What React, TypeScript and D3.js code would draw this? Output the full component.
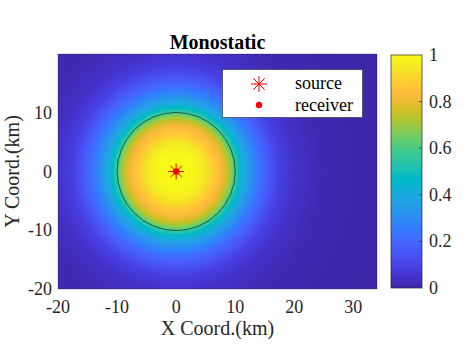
import React from "react";
import * as d3 from "d3";

// ---- data ----
const xTicks = [-20, -10, 0, 10, 20, 30];
const yTicks = [-20, -10, 0, 10];
const cbTicks = [0, 0.2, 0.4, 0.6, 0.8, 1];
// radial profile of the normalized field (distance km -> value)
const profileR = [0, 3, 4.5, 5.5, 6.5, 7.5, 8.3, 9, 9.5, 10, 10.5, 11, 12, 13, 14, 15, 16, 17, 18, 20, 24, 30, 40];
const profileV = [1, 0.99, 0.96, 0.92, 0.87, 0.83, 0.78, 0.72, 0.66, 0.58, 0.51, 0.45, 0.37, 0.3, 0.24, 0.19, 0.15, 0.11, 0.08, 0.045, 0.015, 0.005, 0];
const sourcePos = [0, 0];
const receiverPos = [0, 0];
const rangeRadius = 10;

// parula colormap (64)
const parula = [
  [0.2422,0.1504,0.6603],[0.2504,0.1650,0.7076],[0.2578,0.1818,0.7511],[0.2647,0.1978,0.7952],
  [0.2706,0.2147,0.8364],[0.2751,0.2342,0.8710],[0.2783,0.2559,0.8991],[0.2803,0.2782,0.9221],
  [0.2813,0.3006,0.9414],[0.2810,0.3228,0.9579],[0.2795,0.3447,0.9717],[0.2760,0.3667,0.9829],
  [0.2699,0.3892,0.9906],[0.2602,0.4123,0.9952],[0.2440,0.4358,0.9988],[0.2206,0.4603,0.9973],
  [0.1963,0.4847,0.9892],[0.1834,0.5074,0.9798],[0.1786,0.5289,0.9682],[0.1764,0.5499,0.9520],
  [0.1687,0.5703,0.9359],[0.1540,0.5902,0.9218],[0.1460,0.6091,0.9079],[0.1380,0.6276,0.8973],
  [0.1248,0.6459,0.8883],[0.1113,0.6635,0.8763],[0.0952,0.6798,0.8598],[0.0689,0.6948,0.8394],
  [0.0297,0.7082,0.8163],[0.0036,0.7203,0.7917],[0.0067,0.7312,0.7660],[0.0433,0.7411,0.7394],
  [0.0964,0.7500,0.7120],[0.1408,0.7584,0.6842],[0.1717,0.7670,0.6554],[0.1938,0.7758,0.6251],
  [0.2161,0.7843,0.5923],[0.2470,0.7918,0.5567],[0.2906,0.7973,0.5188],[0.3406,0.8008,0.4789],
  [0.3909,0.8029,0.4354],[0.4456,0.8024,0.3909],[0.5044,0.7993,0.3480],[0.5616,0.7942,0.3045],
  [0.6174,0.7876,0.2612],[0.6720,0.7793,0.2227],[0.7242,0.7698,0.1910],[0.7738,0.7598,0.1646],
  [0.8203,0.7498,0.1535],[0.8634,0.7406,0.1596],[0.9035,0.7330,0.1774],[0.9393,0.7288,0.2100],
  [0.9728,0.7298,0.2394],[0.9956,0.7434,0.2371],[0.9970,0.7659,0.2199],[0.9952,0.7893,0.2028],
  [0.9892,0.8136,0.1885],[0.9786,0.8386,0.1766],[0.9676,0.8639,0.1643],[0.9610,0.8890,0.1537],
  [0.9597,0.9135,0.1423],[0.9628,0.9373,0.1265],[0.9691,0.9606,0.1064],[0.9769,0.9839,0.0805],
];
const parulaColors = parula.map(([r, g, b]) => d3.rgb(r * 255, g * 255, b * 255).formatHex());
const colorScale = d3.scaleLinear<string>()
  .domain(parulaColors.map((_, i) => i / (parulaColors.length - 1)))
  .range(parulaColors)
  .interpolate(d3.interpolateRgb)
  .clamp(true);

const profile = d3.scaleLinear().domain(profileR).range(profileV).clamp(true);

const FONT = "'Liberation Serif', 'Times New Roman', serif";

export default function App() {
  const W = 474, H = 355;
  const x = d3.scaleLinear().domain([-20, 34]).range([58, 377]);
  const y = d3.scaleLinear().domain([-20, 20]).range([289, 54]);
  const cb = d3.scaleLinear().domain([0, 1]).range([288, 55]);
  const cbX0 = 391, cbX1 = 422;

  const cx = x(0), cy = y(0);
  const Rmax = 40;
  const Rpx = x(Rmax) - x(0);
  const stops = d3.range(0, Rmax + 0.001, 0.2).map((r) => ({
    off: r / Rmax,
    color: colorScale(profile(r)),
  }));

  const cbStops = d3.range(0, 1.0001, 0.02);

  const star = (px: number, py: number, s: number, key: string) => {
    const a = s / 2;
    const d = a * Math.SQRT1_2;
    return (
      <g key={key} stroke="#ff0000" strokeWidth={1}>
        <line x1={px - a} y1={py} x2={px + a} y2={py} />
        <line x1={px} y1={py - a} x2={px} y2={py + a} />
        <line x1={px - d} y1={py - d} x2={px + d} y2={py + d} />
        <line x1={px - d} y1={py + d} x2={px + d} y2={py - d} />
      </g>
    );
  };

  return (
    <svg width={W} height={H} style={{ position: "absolute", left: 0, top: 0 }} fontFamily={FONT}>
      <defs>
        <radialGradient id="field" gradientUnits="userSpaceOnUse" cx={cx} cy={cy} r={Rpx} fx={cx} fy={cy}>
          {stops.map((s, i) => (
            <stop key={i} offset={s.off} stopColor={s.color} />
          ))}
        </radialGradient>
        <linearGradient id="cbar" x1="0" y1="1" x2="0" y2="0">
          {cbStops.map((t, i) => (
            <stop key={i} offset={t} stopColor={colorScale(t)} />
          ))}
        </linearGradient>
        <clipPath id="plotClip">
          <rect x={x(-20)} y={y(20)} width={x(34) - x(-20)} height={y(-20) - y(20)} />
        </clipPath>
      </defs>
      <rect width={W} height={H} fill="#fff" />

      {/* field */}
      <g clipPath="url(#plotClip)">
        <rect x={x(-20)} y={y(20)} width={x(34) - x(-20)} height={y(-20) - y(20)} fill="url(#field)" />
        <circle cx={x(0)} cy={y(0)} r={x(rangeRadius) - x(0)} fill="none" stroke="#0a2a2a" strokeWidth={0.8} strokeOpacity={0.85} />
        {star(x(sourcePos[0]), y(sourcePos[1]), 16, "src")}
        <circle cx={x(receiverPos[0])} cy={y(receiverPos[1])} r={3.2} fill="#ff0000" />
      </g>
      <rect x={x(-20)} y={y(20)} width={x(34) - x(-20)} height={y(-20) - y(20)} fill="none" stroke="#262626" strokeWidth={0.5} strokeOpacity={0.6} />

      {/* x ticks */}
      {xTicks.map((t) => (
        <text key={"x" + t} x={x(t)} y={313} fontSize={18} textAnchor="middle" fill="#262626">{t}</text>
      ))}
      {yTicks.map((t) => (
        <text key={"y" + t} x={52} y={y(t) + 6} fontSize={18} textAnchor="end" fill="#262626">{t}</text>
      ))}
      <text x={(x(-20) + x(34)) / 2} y={335} fontSize={20} textAnchor="middle" fill="#262626">X Coord.(km)</text>
      <text transform={`translate(19,${(y(-20) + y(20)) / 2}) rotate(-90)`} fontSize={20} textAnchor="middle" fill="#262626">Y Coord.(km)</text>
      <text x={(x(-20) + x(34)) / 2} y={49} fontSize={20} fontWeight="bold" textAnchor="middle" fill="#000">Monostatic</text>

      {/* legend */}
      <rect x={222.5} y={69.5} width={140} height={48} fill="#fff" stroke="#262626" strokeWidth={0.6} />
      {star(259, 84, 16, "lg")}
      <circle cx={259} cy={105} r={3.2} fill="#ff0000" />
      <text x={295} y={89} fontSize={18} fill="#000">source</text>
      <text x={295} y={111} fontSize={18} fill="#000">receiver</text>

      {/* colorbar */}
      <rect x={cbX0} y={cb(1)} width={cbX1 - cbX0} height={cb(0) - cb(1)} fill="url(#cbar)" stroke="#262626" strokeWidth={0.7} />
      {cbTicks.map((t) => (
        <g key={"c" + t}>
          {t > 0 && t < 1 && <line x1={cbX1 - 3} x2={cbX1} y1={cb(t)} y2={cb(t)} stroke="#262626" strokeWidth={0.7} />}
          <text x={429} y={cb(t) + 6} fontSize={18} fill="#262626">{t}</text>
        </g>
      ))}
    </svg>
  );
}
